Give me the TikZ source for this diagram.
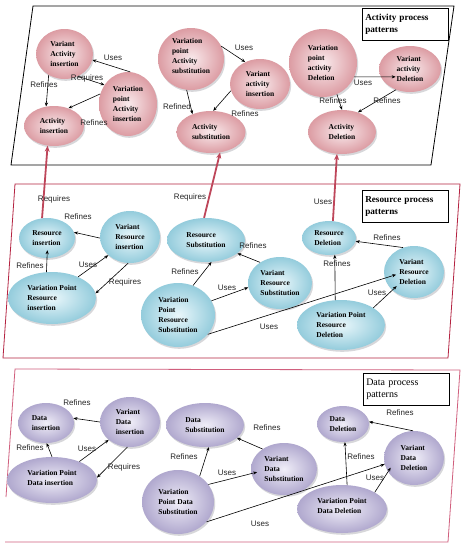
\documentclass[tikz,border=0pt]{standalone}
\usepackage{fontspec}
\setmainfont{Liberation Serif}
\newfontfamily\labsans{Liberation Sans}
\newfontfamily\serbold{Liberation Serif Bold}
\usetikzlibrary{shapes.geometric,arrows.meta}
\definecolor{pkin}{RGB}{249,234,236}
\definecolor{pkout}{RGB}{220,156,163}
\definecolor{cyin}{RGB}{234,247,251}
\definecolor{cyout}{RGB}{148,204,220}
\definecolor{lvin}{RGB}{240,238,248}
\definecolor{lvout}{RGB}{176,168,206}
\definecolor{crim}{RGB}{180,35,65}
\definecolor{pinkb}{RGB}{208,95,125}
\definecolor{redarrow}{RGB}{190,70,90}
\definecolor{shd}{RGB}{215,215,218}
\newcommand{\ndfont}{\serbold\fontsize{7.5}{10}\selectfont}
\newcommand{\labfont}{\labsans\fontsize{8}{9}\selectfont}
\tikzset{
  elbase/.style={ellipse, inner sep=0pt,
    preaction={fill=shd, transform canvas={shift={(1.2pt,-1.8pt)}}}},
  pk/.style={elbase, shade, inner color=pkin, outer color=pkout},
  cy/.style={elbase, shade, inner color=cyin, outer color=cyout},
  lv/.style={elbase, shade, inner color=lvin, outer color=lvout},
  ntext/.style={align=left, font=\ndfont, text=black, inner sep=0pt},
  arr/.style={draw=black, line width=0.6pt, -{Stealth[length=4pt,width=3.2pt]}},
  redarr/.style={draw=redarrow, line width=1.8pt, -{Stealth[length=6pt,width=5pt]}},
  lab/.style={font=\labfont, inner sep=0.5pt, text=black!85},
  pbox/.style={draw=black, line width=0.5pt, anchor=north west, minimum width=86pt,
    minimum height=32pt, text width=80pt, align=left, inner sep=3pt}
}
\begin{document}
\begin{tikzpicture}[x=1pt,y=-1pt]
\fill[white] (0,0) rectangle (468,549);
\useasboundingbox (0,0) rectangle (468,549);

% panel borders
\draw[black, line width=0.8pt] (33,6) -- (454,6) -- (431,165) -- (11,165) -- cycle;
\draw[crim, line width=0.8pt] (15,184) -- (460,184) -- (448,358) -- (3,358) -- cycle;
\draw[pinkb, line width=0.8pt] (6,497) -- (15,369) -- (460,370) -- (448,542) -- (5,542);

% ---------- Activity ellipses
\node[pk, minimum width=57, minimum height=50] (vai) at (64.5,54) {};
\node[pk, minimum width=58, minimum height=64] (vpai) at (128,104) {};
\node[pk, minimum width=60, minimum height=40] (ai) at (54,126) {};
\node[pk, minimum width=66, minimum height=62] (vpas) at (191,59) {};
\node[pk, minimum width=69, minimum height=42] (as) at (211,132) {};
\node[pk, minimum width=60, minimum height=50] (vain) at (260,84) {};
\node[pk, minimum width=68, minimum height=68] (vpad) at (323,63) {};
\node[pk, minimum width=62, minimum height=46] (vad) at (410,69) {};
\node[pk, minimum width=68, minimum height=44] (ad) at (342,132) {};

% ---------- Resource ellipses
\node[cy, minimum width=56, minimum height=40] (ri) at (47,238) {};
\node[cy, minimum width=60, minimum height=52] (vri) at (130,237) {};
\node[cy, minimum width=88, minimum height=52] (vpri) at (52,298) {};
\node[cy, minimum width=78, minimum height=44] (rs) at (206,240) {};
\node[cy, minimum width=74, minimum height=64] (vprs) at (178,315) {};
\node[cy, minimum width=64, minimum height=52] (vrs) at (280,283) {};
\node[cy, minimum width=54, minimum height=34] (rd) at (329,238) {};
\node[cy, minimum width=60, minimum height=52] (vrd) at (414,272) {};
\node[cy, minimum width=88, minimum height=50] (vprd) at (341,325) {};

% ---------- Data ellipses
\node[lv, minimum width=56, minimum height=40] (di) at (46,423) {};
\node[lv, minimum width=60, minimum height=50] (vdi) at (130,422) {};
\node[lv, minimum width=90, minimum height=46] (vpdi) at (52,480) {};
\node[lv, minimum width=78, minimum height=44] (ds) at (205,425) {};
\node[lv, minimum width=72, minimum height=64] (vpds) at (178,502) {};
\node[lv, minimum width=66, minimum height=52] (vds) at (284,469) {};
\node[lv, minimum width=52, minimum height=36] (dd) at (343,424) {};
\node[lv, minimum width=60, minimum height=54] (vdd) at (414,458) {};
\node[lv, minimum width=90, minimum height=48] (vpdd) at (342,509) {};

% panel titles
\node[pbox, font=\serbold\fontsize{9.2}{12}\selectfont, text=black] (pa) at (362,8) {Activity process\\patterns};
\node[pbox, font=\serbold\fontsize{9.2}{12}\selectfont, text=black] (pr) at (362,190) {Resource process\\patterns};
\node[pbox, font=\fontsize{10}{12}\selectfont, text=black] (pd) at (363,373) {Data process\\patterns};

% ---------- node texts
\node[ntext] (vai-t) at (vai) {Variant\\Activity\\insertion};
\node[ntext] (vpai-t) at (vpai) {Variation\\point\\Activity\\insertion};
\node[ntext] (ai-t) at (ai) {Activity\\insertion};
\node[ntext] (vpas-t) at (191,56) {Variation\\point\\Activity\\substitution};
\node[ntext] (as-t) at (as) {Activity\\substitution};
\node[ntext] (vain-t) at (vain) {Variant\\activity\\insertion};
\node[ntext] (vpad-t) at (vpad) {Variation\\point\\activity\\Deletion};
\node[ntext] (vad-t) at (vad) {Variant\\activity\\Deletion};
\node[ntext] (ad-t) at (ad) {Activity\\Deletion};
\node[ntext] (ri-t) at (ri) {Resource\\insertion};
\node[ntext] (vri-t) at (vri) {Variant\\Resource\\insertion};
\node[ntext] (vpri-t) at (vpri) {Variation Point\\Resource\\insertion};
\node[ntext] (rs-t) at (rs) {Resource\\Substitution};
\node[ntext] (vprs-t) at (vprs) {Variation\\Point\\Resource\\Substitution};
\node[ntext] (vrs-t) at (vrs) {Variant\\Resource\\Substitution};
\node[ntext] (rd-t) at (rd) {Resource\\Deletion};
\node[ntext] (vrd-t) at (vrd) {Variant\\Resource\\Deletion};
\node[ntext] (vprd-t) at (vprd) {Variation Point\\Resource\\Deletion};
\node[ntext] (di-t) at (di) {Data\\insertion};
\node[ntext] (vdi-t) at (vdi) {Variant\\Data\\insertion};
\node[ntext] (vpdi-t) at (52,478) {Variation Point\\Data insertion};
\node[ntext] (ds-t) at (ds) {Data\\Substitution};
\node[ntext] (vpds-t) at (vpds) {Variation\\Point Data\\Substitution};
\node[ntext] (vds-t) at (vds) {Variant\\Data\\Substitution};
\node[ntext] (dd-t) at (dd) {Data\\Deletion};
\node[ntext] (vdd-t) at (vdd) {Variant\\Data\\Deletion};
\node[ntext] (vpdd-t) at (342,506) {Variation Point\\Data Deletion};

% ---------- Activity edges
\draw[arr] (vpai.86) -- (vai.348);
\draw[arr] (vai.301) -- (vpai.141);
\draw[arr] (vai.233) -- (ai.112);
\draw[arr] (vpai.160) -- (ai.51);
\draw[arr] (vpas.262) -- (as.136);
\draw[arr] (vpas.23) -- (vain.124);
\draw[arr] (vain.193) -- (as.84);
\draw[arr, shorten >=-15pt] (vpad.336) -- (vad.195);
\draw[arr] (vpad.294) -- (ad.90);
\draw[arr] (vad.236) -- (ad.51);

% ---------- Resource edges
\draw[arr] (vri.182) -- (ri.12);
\draw[arr, shorten >=-8pt] (vpri.102) -- (ri.270);
\draw[arr] (vpri.39) -- (vri.220);
\draw[arr] (vri.266) -- (vpri.6);
\draw[arr] (vprs.63) -- (rs.284);
\draw[arr] (vprs.23) -- (vrs.188);
\draw[arr, shorten >=-12pt] (vprs.327) -- (vrd.192);
\draw[arr] (vrs.134) -- (rs.337);
\draw[arr] (vprd.103) -- (rd.289);
\draw[arr, shorten >=-6pt] (vprd.28) -- (vrd.220);
\draw[arr] (vrd.114) -- (rd.353);

% ---------- Data edges
\draw[arr] (vdi.180) -- (di.10);
\draw[arr] (vpdi.90) -- (di.272);
\draw[arr] (vpdi.34) -- (vdi.220);
\draw[arr] (vdi.264) -- (vpdi.3);
\draw[arr] (vpds.50) -- (ds.280);
\draw[arr, shorten >=-6pt] (vpds.30) -- (vds.188);
\draw[arr] (vpds.325) -- (vdd.192);
\draw[arr] (vds.137) -- (ds.338);
\draw[arr] (vpdd.78) -- (dd.276);
\draw[arr, shorten >=-5pt] (vpdd.27) -- (vdd.208);
\draw[arr] (vdd.92) -- (dd.5);

% ---------- red links between panels
\draw[redarr] (ri.104) -- (ai.252);
\draw[redarr] (rs.95) -- (as.294);
\draw[redarr] (rd.77) -- (ad.257);

% ---------- labels: activity
\node[lab] (la1) at (113,58) {Uses};
\node[lab] (la2) at (87,78) {Requires};
\node[lab] (la3) at (44,85) {Refines};
\node[lab] (la4) at (94,123) {Refines};
\node[lab] (la5) at (177,107) {Refined};
\node[lab] (la6) at (244,48) {Uses};
\node[lab] (la7) at (245,114) {Refines};
\node[lab] (la8) at (363,83) {Uses};
\node[lab] (la9) at (333,101) {Refines};
\node[lab] (la10) at (387,101) {Refines};
% red link labels
\node[lab] (lk1) at (54,199) {Requires};
\node[lab] (lk2) at (190,197) {Requires};
\node[lab] (lk3) at (323,202) {Uses};
% labels: resource
\node[lab] (lr1) at (78,217) {Refines};
\node[lab] (lr2) at (30,266) {Refines};
\node[lab] (lr3) at (88,265) {Uses};
\node[lab] (lr4) at (125,282) {Requires};
\node[lab] (lr5) at (185,272) {Refines};
\node[lab] (lr6) at (227,288) {Uses};
\node[lab] (lr7) at (269,327) {Uses};
\node[lab] (lr8) at (253,246) {Refines};
\node[lab] (lr9) at (337,264) {Refines};
\node[lab] (lr10) at (377,293) {Uses};
\node[lab] (lr11) at (387,238) {Refines};
% labels: data
\node[lab] (ld1) at (77,403) {Refines};
\node[lab] (ld2) at (30,448) {Refines};
\node[lab] (ld3) at (87,449) {Uses};
\node[lab] (ld4) at (124,467) {Requires};
\node[lab] (ld5) at (184,457) {Refines};
\node[lab] (ld6) at (227,473) {Uses};
\node[lab] (ld7) at (260,524) {Uses};
\node[lab] (ld8) at (267,428) {Refines};
\node[lab] (ld9) at (361,457) {Refines};
\node[lab] (ld10) at (375,478) {Uses};
\node[lab] (ld11) at (400,413) {Refines};
\end{tikzpicture}
\end{document}
